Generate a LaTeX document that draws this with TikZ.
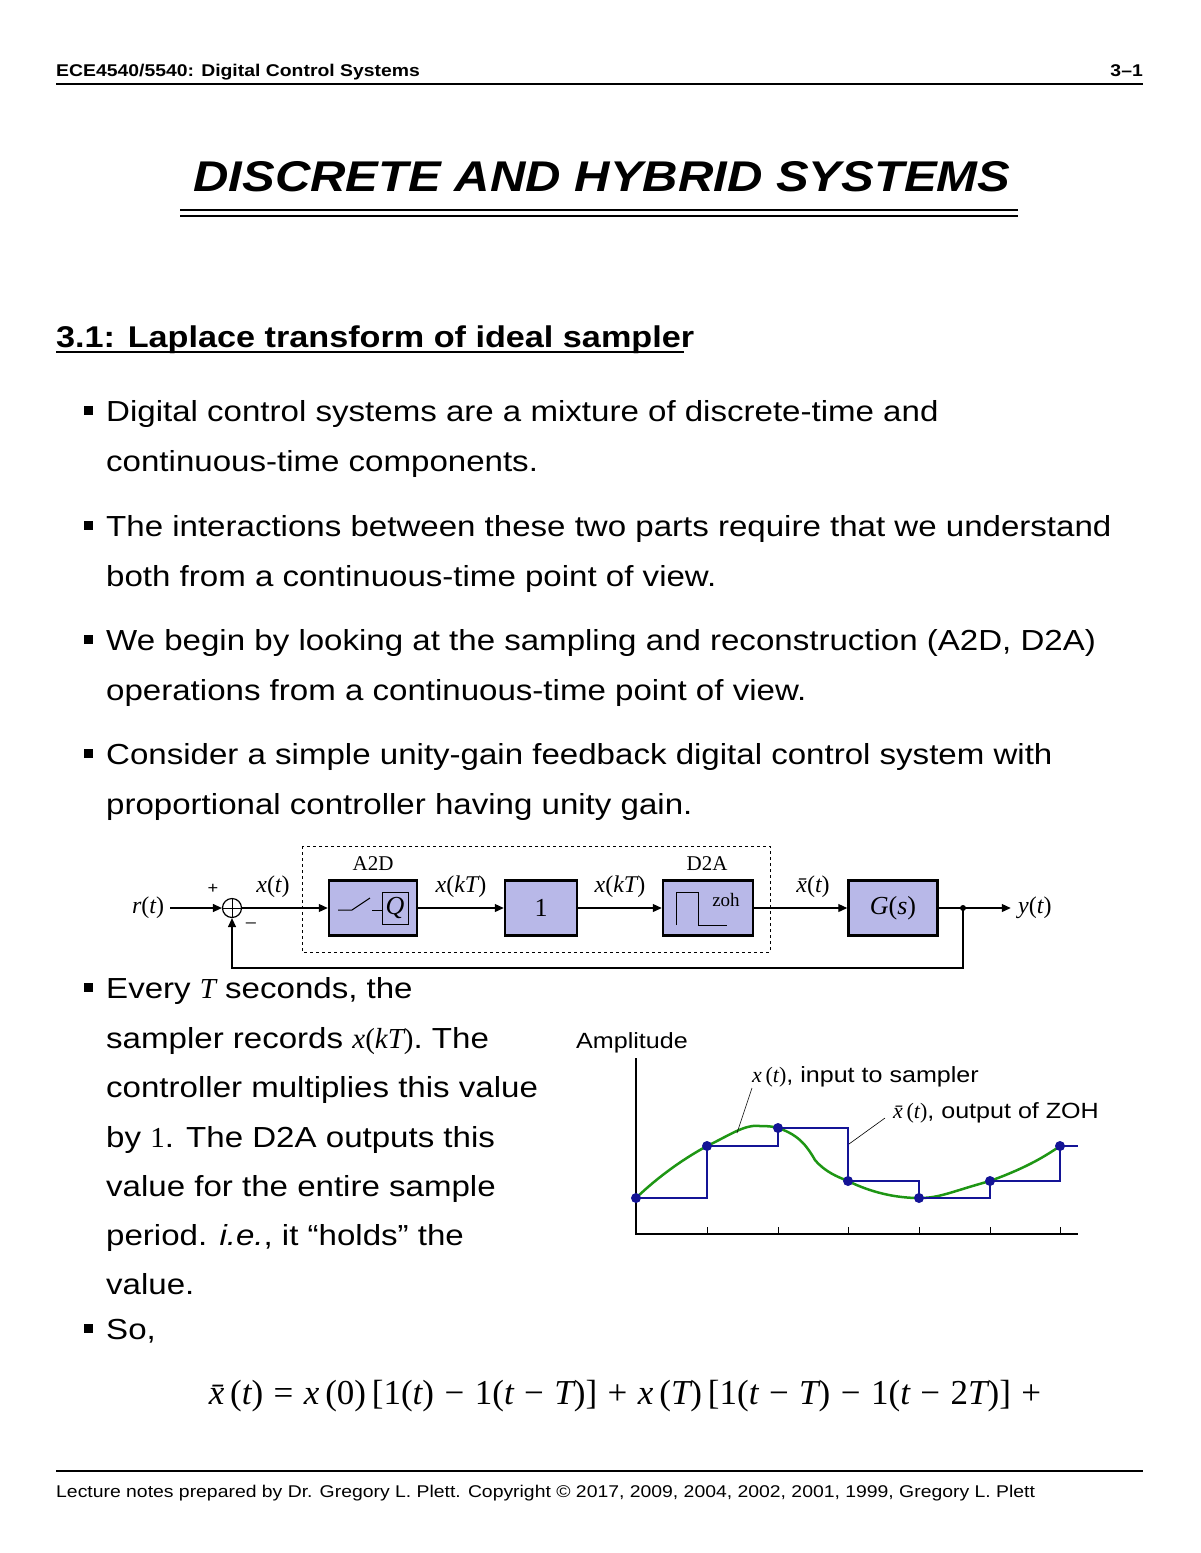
\documentclass[tikz,border=0pt]{standalone}
\usepackage{fontspec}
\setmainfont{Liberation Sans}[FakeStretch=1.14]
\newfontfamily\serifm{Liberation Serif}
\usetikzlibrary{arrows.meta}
\definecolor{blk}{RGB}{184,184,232}
\definecolor{grn}{RGB}{30,150,20}
\definecolor{stp}{RGB}{20,20,150}
\newcommand{\bodyf}{\fontsize{29}{34}\selectfont}
\newcommand{\lblf}{\fontsize{24}{26}\selectfont}
\newcommand{\vi}[1]{{\serifm\itshape #1}}
\newcommand{\up}[1]{{\serifm #1}}
\newcommand{\xb}{{\serifm\itshape x\char"0304}}
\newcommand{\mt}{\hspace{0.3em}{\serifm\char"2212}\hspace{0.3em}}
\newcommand{\pl}{\hspace{0.3em}+\hspace{0.3em}}
\begin{document}
\begin{tikzpicture}[x=1pt,y=-1pt,
  txt/.style={anchor=base west,font=\bodyf,inner sep=0},
  blockbox/.style={draw=black,line width=2.5pt,fill=blk,minimum width=88pt,minimum height=55pt,inner sep=0},
  sig/.style={line width=1.2pt,-{Triangle[length=9pt,width=8pt]}},
  lbl/.style={font=\lblf,inner sep=0},
  bul/.style={fill=black,minimum size=9pt,inner sep=0}]
\useasboundingbox (0,0) rectangle (1200,1553);
% header
\node[anchor=base west,font=\fontsize{17}{20}\selectfont\bfseries,inner sep=0] (hd) at (56,76) {ECE4540/5540: Digital Control Systems};
\node[anchor=base east,font=\fontsize{17}{20}\selectfont\bfseries,inner sep=0] (pg) at (1143,76) {3--1};
\draw[line width=1.5pt] (56,84) -- (1143,84);
% title
\node[font=\fontsize{43}{48}\selectfont\bfseries\itshape,inner sep=0] (title) at (602,177) {DISCRETE AND HYBRID SYSTEMS};
\draw[line width=1.5pt] (180,210) -- (1018,210);
\draw[line width=1.5pt] (180,216) -- (1018,216);
% section
\node[anchor=base west,font=\fontsize{30}{34}\selectfont\bfseries,inner sep=0] (sec) at (56,347) {3.1: Laplace transform of ideal sampler};
\draw[line width=1.5pt] (56,352) -- (684,352);
% bullets
\foreach \y in {410,525,639,753,987,1328} \node[bul] at (88,\y) {};
\node[txt] at (106,421) {Digital control systems are a mixture of discrete-time and};
\node[txt] at (106,471) {continuous-time components.};
\node[txt] at (106,536) {The interactions between these two parts require that we understand};
\node[txt] at (106,586) {both from a continuous-time point of view.};
\node[txt] at (106,650) {We begin by looking at the sampling and reconstruction (A2D, D2A)};
\node[txt] at (106,700) {operations from a continuous-time point of view.};
\node[txt] at (106,764) {Consider a simple unity-gain feedback digital control system with};
\node[txt] at (106,814) {proportional controller having unity gain.};
\node[txt] at (106,998) {Every \vi{T} seconds, the};
\node[txt] at (106,1048) {sampler records \vi{x}\up{(}\vi{kT}\up{)}. The};
\node[txt] at (106,1097) {controller multiplies this value};
\node[txt] at (106,1147) {by \up{1}. The D2A outputs this};
\node[txt] at (106,1196) {value for the entire sample};
\node[txt] at (106,1245) {period. \textit{i.e.}, it ``holds'' the};
\node[txt] at (106,1294) {value.};
\node[txt] at (106,1339) {So,};
% equation
\node[font=\fontsize{35}{40}\selectfont\serifm,inner sep=0] (eq) at (625,1396) {\xb\,(\vi{t})\hspace{0.3em}=\hspace{0.3em}\vi{x}\,(0)\,[1(\vi{t})\mt1(\vi{t}\mt\vi{T})]\pl\vi{x}\,(\vi{T})\,[1(\vi{t}\mt\vi{T})\mt1(\vi{t}\mt2\vi{T})]\pl};
% block diagram
\draw[dashed,line width=1pt] (302,846) rectangle (770,952);
\node[lbl,font=\lblf\serifm] (ra) at (148,908) {\vi{r}(\vi{t})};
\node[draw,circle,line width=1.2pt,minimum size=19pt,inner sep=0] (sum) at (232,908) {};
\draw[line width=1pt] (sum.north)--(sum.south) (sum.west)--(sum.east);
\node[blockbox] (a2d) at (373,908) {};
\node[blockbox,minimum width=72pt] (one) at (541,908) {\fontsize{26}{28}\selectfont\serifm 1};
\node[blockbox,minimum width=90pt] (d2a) at (708,908) {};
\node[blockbox,minimum width=89pt] (g) at (893,908) {\fontsize{26}{28}\selectfont\serifm\vi{G}(\vi{s})};
\node[lbl,font=\fontsize{21}{24}\selectfont\serifm] at (373,864) {A2D};
\node[lbl,font=\fontsize{21}{24}\selectfont\serifm] at (707,864) {D2A};
% A2D inner symbol
\draw[line width=1pt] (338,910) -- (352,910) -- (370,898);
\draw[line width=1pt] (372,910) -- (382,910);
\node[draw,line width=1pt,minimum width=26pt,minimum height=32pt,inner sep=0,font=\fontsize{26}{26}\selectfont] (q) at (395,908) {\vi{Q}};
% D2A inner symbol
\draw[line width=1pt] (676,925) -- (676,892) -- (698,892) -- (698,925) -- (727,925);
\node[lbl,font=\fontsize{19}{20}\selectfont\serifm] at (726,900) {zoh};
\coordinate (od) at (963,908);
\node[lbl,anchor=west,font=\lblf\serifm] (yl) at (1018,908) {\vi{y}(\vi{t})};
\draw[sig] (ra.east)++(6,0) -- (sum.west);
\draw[sig] (sum.east) -- (a2d.west);
\draw[sig] (a2d.east) -- (one.west);
\draw[sig] (one.east) -- (d2a.west);
\draw[sig] (d2a.east) -- (g.west);
\draw[sig] (g.east) -- ++(72,0);
\fill (od) circle (3pt);
\draw[sig] (od) -- (963,968) -- (232,968) -- (sum.south);
\node[lbl,font=\fontsize{16}{18}\selectfont] at (213,889) {+};
\node[lbl,font=\fontsize{16}{18}\selectfont] at (251,925) {--};
\node[lbl,font=\lblf\serifm] at (273,887) {\vi{x}(\vi{t})};
\node[lbl,font=\lblf\serifm] at (461,887) {\vi{x}(\vi{kT})};
\node[lbl,font=\lblf\serifm] at (620,887) {\vi{x}(\vi{kT})};
\node[lbl,font=\lblf\serifm] at (813,887) {\xb(\vi{t})};
% plot
\node[anchor=base west,font=\fontsize{22}{26}\selectfont,inner sep=0] at (576,1048) {Amplitude};
\draw[line width=1.5pt] (636,1058) -- (636,1234) -- (1078,1234);
\foreach \x in {707,778,848,919,990,1060} \draw[line width=1pt] (\x,1234) -- (\x,1227);
\draw[grn,line width=2.5pt] (636,1198) .. controls (660,1175) and (685,1158) .. (707,1146)
  .. controls (730,1135) and (745,1124) .. (760,1126) .. controls (770,1126) and (775,1127) .. (778,1128)
  .. controls (800,1135) and (808,1148) .. (815,1160) .. controls (825,1172) and (838,1177) .. (848,1181)
  .. controls (870,1192) and (895,1198) .. (919,1198) .. controls (940,1198) and (950,1192) .. (990,1181)
  .. controls (1020,1170) and (1040,1160) .. (1060,1146);
\draw[stp,line width=1.5pt] (636,1198) -- (707,1198) -- (707,1146) -- (778,1146) -- (778,1128) -- (848,1128) -- (848,1181) -- (919,1181) -- (919,1198) -- (990,1198) -- (990,1181) -- (1060,1181) -- (1060,1146) -- (1078,1146);
\foreach \x/\y in {636/1198,707/1146,778/1128,848/1181,919/1198,990/1181,1060/1146} \fill[stp] (\x,\y) circle (5pt);
\node[anchor=base west,font=\fontsize{22}{26}\selectfont,inner sep=0] (l1) at (752,1082) {\vi{x}\,\up{(}\vi{t}\up{)}, input to sampler};
\node[anchor=base west,font=\fontsize{22}{26}\selectfont,inner sep=0] (l2) at (893,1118) {\xb\,\up{(}\vi{t}\up{)}, output of ZOH};
\draw[line width=0.6pt] (752,1088) -- (737,1133);
\draw[line width=0.6pt] (885,1118) -- (849,1144);
% footer
\draw[line width=1.5pt] (56,1471) -- (1143,1471);
\node[anchor=base west,font=\fontsize{17}{20}\selectfont,inner sep=0] (ft) at (56,1497) {Lecture notes prepared by Dr. Gregory L. Plett. Copyright \copyright\ 2017, 2009, 2004, 2002, 2001, 1999, Gregory L. Plett};
\end{tikzpicture}
\end{document}
